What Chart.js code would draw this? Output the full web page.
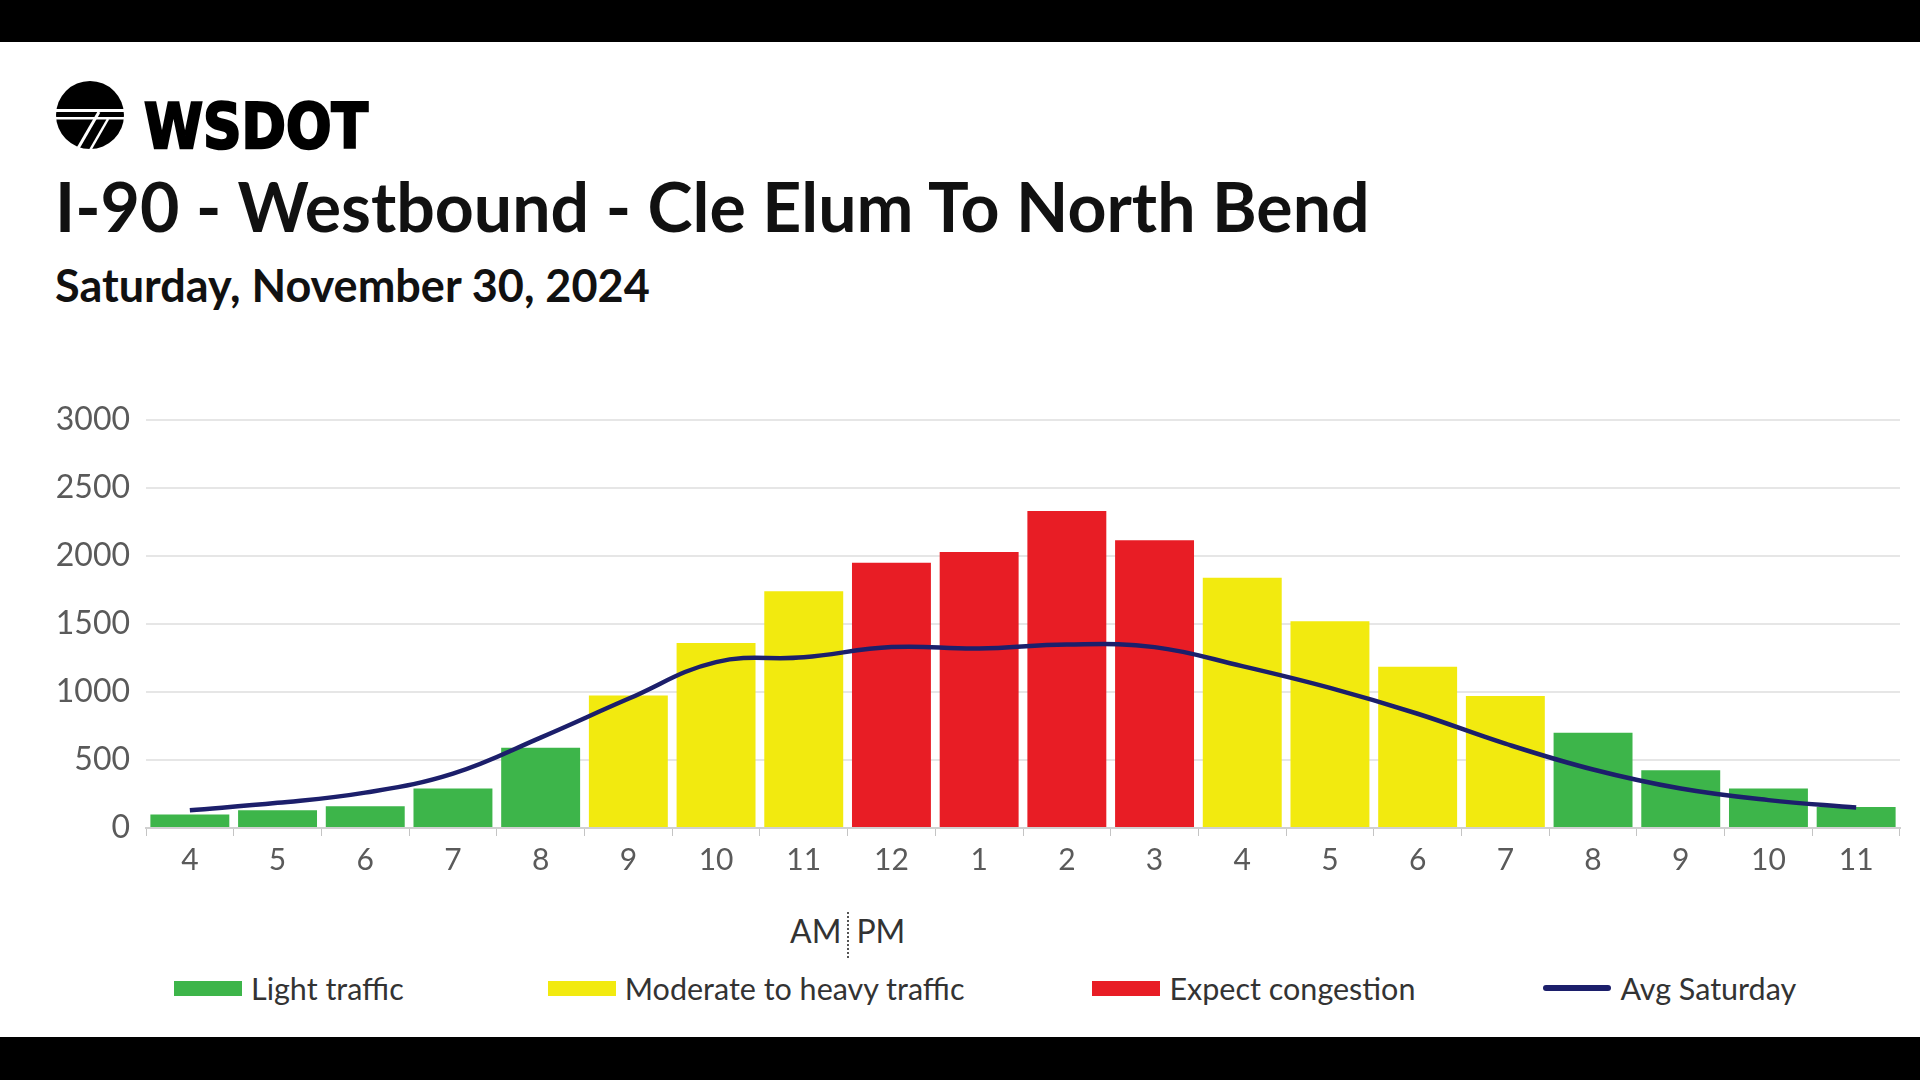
<!DOCTYPE html>
<html>
<head>
<meta charset="utf-8">
<title>I-90 - Westbound - Cle Elum To North Bend</title>
<script src="https://cdn.jsdelivr.net/npm/chart.js@4.4.1/dist/chart.umd.min.js"></script>
<style>
  html, body { margin: 0; padding: 0; }
  body { width: 1920px; height: 1080px; position: relative; overflow: hidden; background: #fff; font-family: Lato, "Open Sans", sans-serif; }
  .band { position: absolute; left: 0; width: 1920px; background: #000; }
  #logo { position: absolute; left: 55px; top: 80px; }
  #title { position: absolute; left: 55px; top: 172px; font-size: 68px; line-height: 68px; font-weight: 700; color: #111; white-space: nowrap; }
  #subtitle { position: absolute; left: 55px; top: 263px; font-size: 45px; line-height: 45px; font-weight: 700; color: #111; white-space: nowrap; }
  #ampm { position: absolute; left: 790px; top: 911px; font-size: 32px; line-height: 40px; color: #333; white-space: nowrap; }
  #ampm .sep { display: inline-block; width: 0; height: 46px; border-left: 2px dotted #555; vertical-align: middle; margin: 0 7px 0 6px; }
  #legend { position: absolute; left: 174px; top: 970px; display: flex; align-items: center; gap: 128px; white-space: nowrap; }
  #legend .item { display: flex; align-items: center; font-size: 30.5px; line-height: 36px; color: #333; }
  #legend .item:first-child { margin-right: 16px; }
  #legend .swatch { display: inline-block; width: 68px; margin-right: 9px; }
  #chart { position: absolute; left: 0; top: 0; }
</style>
</head>
<body>
<div class="band" style="top:0;height:42px"></div>
<div class="band" style="top:1037px;height:43px"></div>

<svg id="logo" width="330" height="72" viewBox="0 0 330 72">
  <circle cx="35" cy="35" r="34" fill="#000"/>
  <rect x="0" y="29" width="70" height="3" fill="#fff"/>
  <rect x="0" y="37" width="70" height="2.5" fill="#fff"/>
  <line x1="44" y1="32" x2="22" y2="70" stroke="#fff" stroke-width="3"/>
  <line x1="53" y1="39" x2="34" y2="72" stroke="#fff" stroke-width="2.5"/>
  <text x="89" y="68" font-family="DejaVu Sans" font-weight="bold" font-size="62" stroke="#000" stroke-width="2.5" textLength="224" lengthAdjust="spacingAndGlyphs">WSDOT</text>
</svg>

<div id="title">I-90 - Westbound - Cle Elum To North Bend</div>
<div id="subtitle">Saturday, November 30, 2024</div>
<div id="ampm">AM<span class="sep"></span>PM</div>
<div id="legend"></div>

<canvas id="chart" width="1920" height="1080"></canvas>

<script>
var hours = ['4', '5', '6', '7', '8', '9', '10', '11', '12', '1', '2', '3', '4', '5', '6', '7', '8', '9', '10', '11'];
var volumes = [100, 130, 160, 290, 590, 975, 1360, 1740, 1950, 2030, 2330, 2115, 1840, 1520, 1185, 970, 700, 425, 290, 155];
var avgSaturday = [130, 185, 260, 400, 665, 950, 1220, 1255, 1330, 1320, 1350, 1330, 1190, 1030, 840, 620, 430, 290, 205, 150];
// 0 = light, 1 = moderate to heavy, 2 = congestion
var levels = [0, 0, 0, 0, 0, 1, 1, 1, 2, 2, 2, 2, 1, 1, 1, 1, 0, 0, 0, 0];
var levelNames = ['Light traffic', 'Moderate to heavy traffic', 'Expect congestion'];
var levelColors = ['#3db54a', '#f2ea0f', '#e81d25'];
var avgLabel = 'Avg Saturday';
var avgColor = '#1c1f6b';

// legend built from the same arrays
var legendHtml = '';
for (var i in levelNames) {
	legendHtml += '<div class="item"><span class="swatch" style="height:15px;background:' + levelColors[i] + '"></span>' + levelNames[i] + '</div>';
}
legendHtml += '<div class="item"><span class="swatch" style="height:6px;border-radius:3px;background:' + avgColor + '"></span>' + avgLabel + '</div>';
document.getElementById('legend').innerHTML = legendHtml;

var ctx = document.getElementById('chart');

var chart = new Chart(ctx, {
	type: 'bar',
	data: {
		labels: hours,
		datasets: [
			{
				type: 'line',
				label: avgLabel,
				data: avgSaturday,
				borderColor: avgColor,
				borderWidth: 4.5,
				pointRadius: 0,
				tension: 0.4,
				fill: false,
				order: 0
			},
			{
				label: 'Traffic',
				data: volumes,
				backgroundColor: levels.map(function(l) { return levelColors[l]; }),
				barPercentage: 0.9,
				categoryPercentage: 1,
				order: 1
			}
		]
	},
	options: {
		responsive: false,
		animation: false,
		devicePixelRatio: 1,
		layout: { padding: { left: 55, right: 20, top: 420, bottom: 196 } },
		plugins: {
			tooltip: { enabled: false },
			legend: { display: false }
		},
		scales: {
			x: {
				grid: { drawOnChartArea: false, drawTicks: true, tickLength: 8, color: '#c4c4c4', offset: true },
				border: { display: true, color: '#d0d0d0', width: 2 },
				ticks: { color: '#5a5a5a', padding: 6, font: { family: 'Lato', size: 30 } }
			},
			y: {
				min: 0,
				max: 3000,
				ticks: {
					stepSize: 500,
					color: '#5a5a5a',
					padding: 16,
					font: { family: 'Lato', size: 32 },
					callback: function(v) { return String(v); }
				},
				grid: { color: '#e6e6e6', lineWidth: 2, drawTicks: false },
				border: { display: false },
				afterFit: function(scale) { scale.width = 91; }
			}
		}
	}
});
</script>
</body>
</html>
